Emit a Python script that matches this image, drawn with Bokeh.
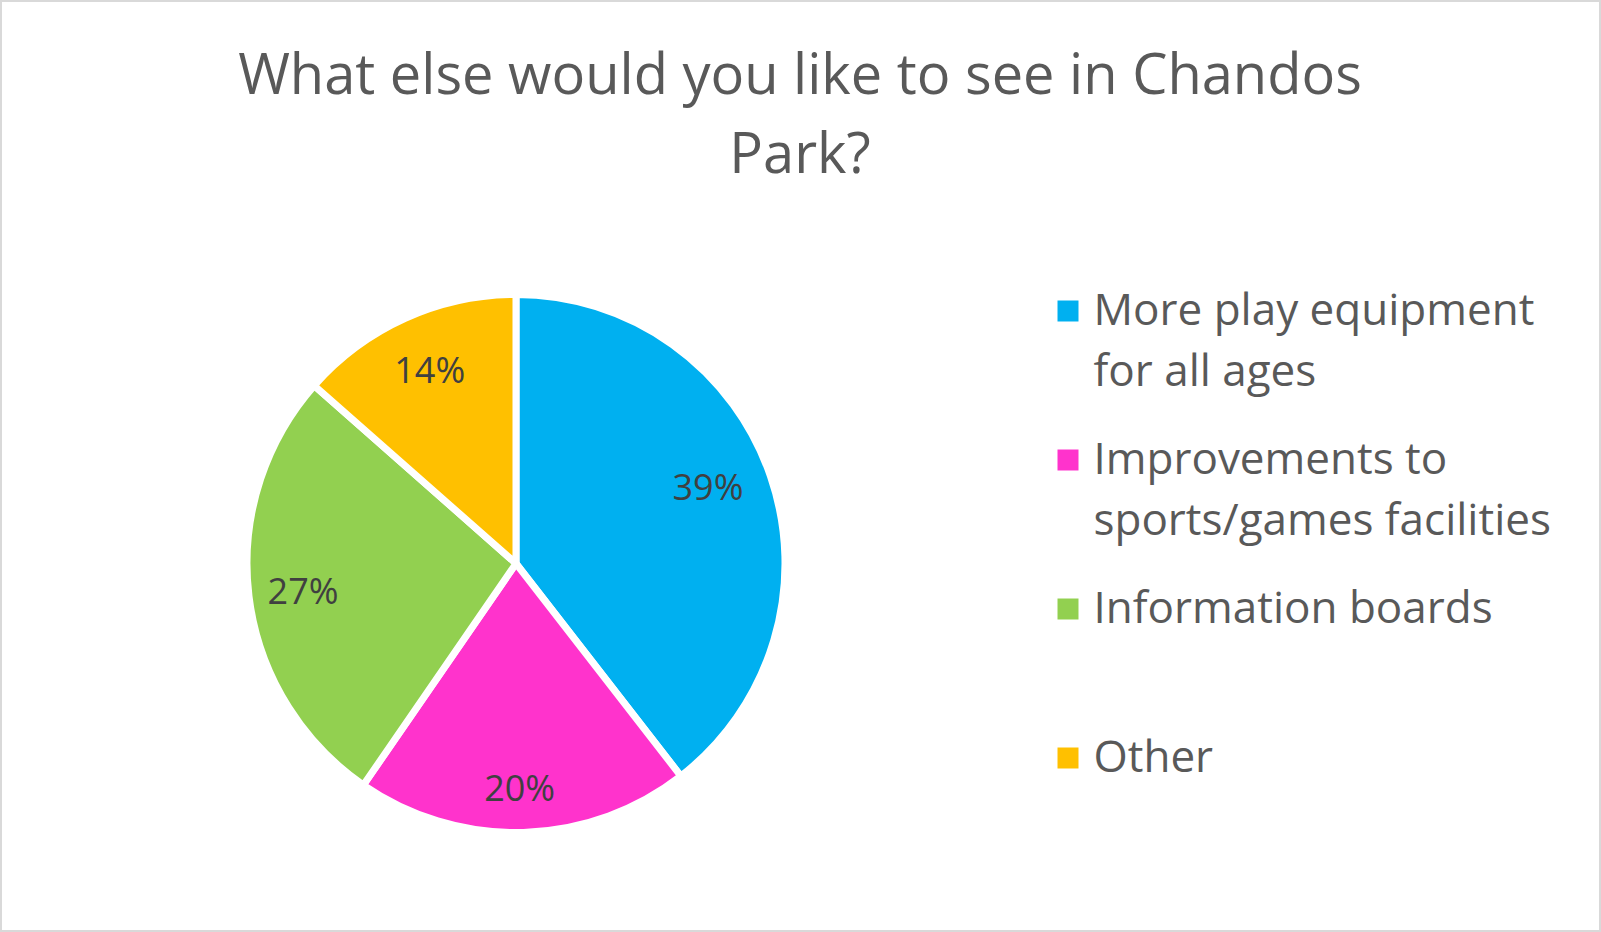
import math
from bokeh.plotting import figure
from bokeh.models import Range1d, ColumnDataSource
from bokeh.embed import file_html
from bokeh.resources import INLINE
from bokeh.core.properties import value

# ---------------- data ----------------
title_lines = ["What else would you like to see in Chandos", "Park?"]
categories = [
    ["More play equipment", "for all ages"],
    ["Improvements to", "sports/games facilities"],
    ["Information boards"],
    ["Other"],
]
shares = [39.5, 20.1, 26.9, 13.5]
pct_labels = ["39%", "20%", "27%", "14%"]
colors = ["#00B0F0", "#FF33CC", "#92D050", "#FFC000"]

# ---------------- layout (screen pixels) ----------------
W, H = 1601, 932
FONT = "Open Sans"
TEXT_FIX = 0.43  # empirical baseline correction (em)


def sx(x):
    return x


def sy(y):
    return H - y


PIE_CX, PIE_CY, PIE_R = 515.5, 563.0, 265.5
GAP = 7
label_r = [0.776, 0.855, 0.81, 0.79]
label_da = [2.4, -0.7, 1.0, 0.0]  # small angular nudges (degrees)
LABEL_SIZE = 36
TITLE_SIZE = 56
LEG_SIZE = 44
LEG_TOP, LEG_STEP = 310.5, 149.0
LEG_SQ_X, LEG_SQ = 1067.5, 21
LEG_TX = 1093
LEG_LINE = 61.5

p = figure(width=W, height=H, x_range=Range1d(0, W), y_range=Range1d(0, H),
           output_backend="svg", toolbar_location=None, title=None,
           x_axis_type=None, y_axis_type=None, min_border=0)
p.outline_line_color = "#D9D9D9"
p.outline_line_width = 3
p.background_fill_color = "white"
p.border_fill_color = "white"

# ---------------- pie ----------------
total = sum(shares)
starts, ends, mids = [], [], []
cum = 0.0
for s in shares:
    a0 = math.pi / 2 - 2 * math.pi * cum / total
    cum += s
    a1 = math.pi / 2 - 2 * math.pi * cum / total
    starts.append(a0)
    ends.append(a1)
    mids.append((a0 + a1) / 2)

cx, cy = sx(PIE_CX), sy(PIE_CY)
src = ColumnDataSource(dict(start=starts, end=ends, color=colors))
p.wedge(x=cx, y=cy, radius=PIE_R + GAP / 2, start_angle="start", end_angle="end",
        direction="clock", fill_color="color", line_color="white", line_width=GAP,
        source=src)

# data labels
cap_l = 0.357 * LABEL_SIZE
fix_l = TEXT_FIX * LABEL_SIZE
ang = [m + math.radians(d) for m, d in zip(mids, label_da)]
lx = [cx + f * PIE_R * math.cos(a) for f, a in zip(label_r, ang)]
ly = [cy + f * PIE_R * math.sin(a) - cap_l + fix_l for f, a in zip(label_r, ang)]
p.text(x=lx, y=ly, text=pct_labels, text_align="center", text_baseline="alphabetic",
       text_font=value(FONT), text_font_size=f"{LABEL_SIZE}px", text_color="#404040")

# ---------------- title ----------------
title_base = [96, 174.5]
fix_t = TEXT_FIX * TITLE_SIZE
p.text(x=[sx(799.5)] * len(title_lines), y=[sy(b) + fix_t for b in title_base], text=title_lines,
       text_align="center", text_baseline="alphabetic", text_font=value(FONT),
       text_font_size=f"{TITLE_SIZE}px", text_color="#595959")

# ---------------- legend ----------------
legend_y = [LEG_TOP + i * LEG_STEP for i in range(len(categories))]
p.rect(x=[sx(LEG_SQ_X)] * len(colors), y=[sy(v) for v in legend_y], width=LEG_SQ, height=LEG_SQ,
       fill_color=colors, line_color=None)
cap_g = 0.357 * LEG_SIZE
fix_g = TEXT_FIX * LEG_SIZE
tx, ty, tt = [], [], []
for rowy, lines in zip(legend_y, categories):
    for k, line in enumerate(lines):
        tx.append(sx(LEG_TX))
        ty.append(sy(rowy + cap_g + k * LEG_LINE) + fix_g)
        tt.append(line)
p.text(x=tx, y=ty, text=tt, text_align="left", text_baseline="alphabetic",
       text_font=value(FONT), text_font_size=f"{LEG_SIZE}px", text_color="#595959")

open("out.html", "w").write(file_html(p, INLINE))
